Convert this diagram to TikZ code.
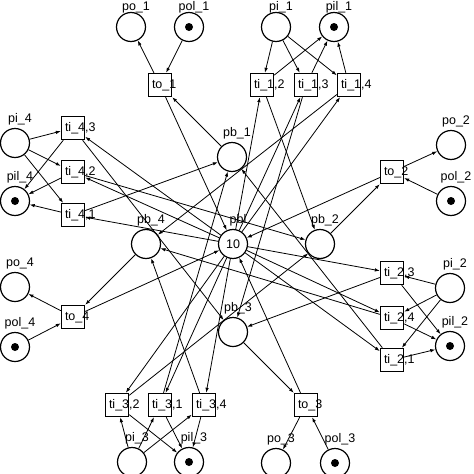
\documentclass[tikz,border=0pt]{standalone}
\usepackage{fontspec}
\setmainfont{Liberation Sans}
\usetikzlibrary{arrows.meta}
\newcommand\PL[5][24]{\node[place] (#2) at (#3,#4) {}; \node[lbl] (#2l) at (#3+5,#4-#1) {#5};}
\newcommand\TR[4]{\node[trans] (#1) at (#2,#3) {}; \node[lbl,anchor=west] (#1l) at ([xshift=4pt]#1.west) {#4};}
\begin{document}
\begin{tikzpicture}[x=1pt,y=-1pt,
  place/.style={circle,draw,line width=1.2pt,minimum size=29pt,inner sep=0pt},
  trans/.style={rectangle,draw,line width=1.4pt,minimum size=23pt,inner sep=0pt},
  tok/.style={circle,fill,minimum size=8pt,inner sep=0pt},
  lbl/.style={font=\fontsize{12.5}{14}\selectfont,inner sep=0pt},
  arc/.style={line width=0.8pt,-{Latex[length=5pt,width=3.5pt]}}
]
\useasboundingbox (0,0) rectangle (474,474);
\clip (0,0) rectangle (474,474);
% places
\PL[20]{po1}{131}{27}{po\_1}
\PL[20]{pol1}{189}{27}{pol\_1}
\PL[20]{pi1}{276}{27}{pi\_1}
\PL[20]{pil1}{334}{27}{pil\_1}
\PL{pi4}{15}{143}{pi\_4}
\PL{pil4}{15}{201}{pil\_4}
\PL{po4}{15}{287}{po\_4}
\PL{pol4}{15}{347}{pol\_4}
\PL{pb1}{232}{157}{pb\_1}
\PL{pb4}{146}{244}{pb\_4}
\PL{pbl}{233}{244}{pbl}
\PL{pb2}{320}{244}{pb\_2}
\PL{pb3}{233}{332}{pb\_3}
\PL{po2}{451}{145}{po\_2}
\PL{pol2}{451}{201}{pol\_2}
\PL{pi2}{450}{288}{pi\_2}
\PL{pil2}{450}{346}{pil\_2}
\PL{pi3}{132}{462}{pi\_3}
\PL{pil3}{189}{462}{pil\_3}
\PL{po3}{276}{463}{po\_3}
\PL{pol3}{335}{463}{pol\_3}
\node[lbl] (pblcount) at (pbl) {10};
% tokens
\node[tok] (tk1) at (pol1) {};
\node[tok] (tk2) at (pil1) {};
\node[tok] (tk3) at (pil4) {};
\node[tok] (tk4) at (pol4) {};
\node[tok] (tk5) at (pol2) {};
\node[tok] (tk6) at (pil2) {};
\node[tok] (tk7) at (pil3) {};
\node[tok] (tk8) at (pol3) {};
% transitions
\TR{to1}{160}{85}{to\_1}
\TR{ti12}{262}{85}{ti\_1,2}
\TR{ti13}{306}{85}{ti\_1,3}
\TR{ti14}{349}{85}{ti\_1,4}
\TR{ti43}{73}{128}{ti\_4,3}
\TR{ti42}{73}{172}{ti\_4,2}
\TR{ti41}{73}{215}{ti\_4,1}
\TR{to4}{73}{317}{to\_4}
\TR{to2}{392}{172}{to\_2}
\TR{ti23}{392}{273}{ti\_2,3}
\TR{ti24}{392}{318}{ti\_2,4}
\TR{ti21}{392}{360}{ti\_2,1}
\TR{ti32}{117}{405}{ti\_3,2}
\TR{ti31}{160}{405}{ti\_3,1}
\TR{ti34}{204}{405}{ti\_3,4}
\TR{to3}{306}{405}{to\_3}
% arcs
\foreach \k/\js in {1/{2,3,4},2/{3,4,1},3/{2,1,4},4/{3,2,1}}{
  \draw[arc] (pol\k) -- (to\k);
  \draw[arc] (to\k) -- (po\k);
  \draw[arc] (pb\k) -- (to\k);
  \draw[arc] (to\k) -- (pbl);
  \foreach \j in \js {
    \draw[arc] (pi\k) -- (ti\k\j);
    \draw[arc] (ti\k\j) -- (pil\k);
    \draw[arc] (pbl) -- (ti\k\j);
    \draw[arc] (ti\k\j) -- (pb\j);
  }
}
\end{tikzpicture}
\end{document}
